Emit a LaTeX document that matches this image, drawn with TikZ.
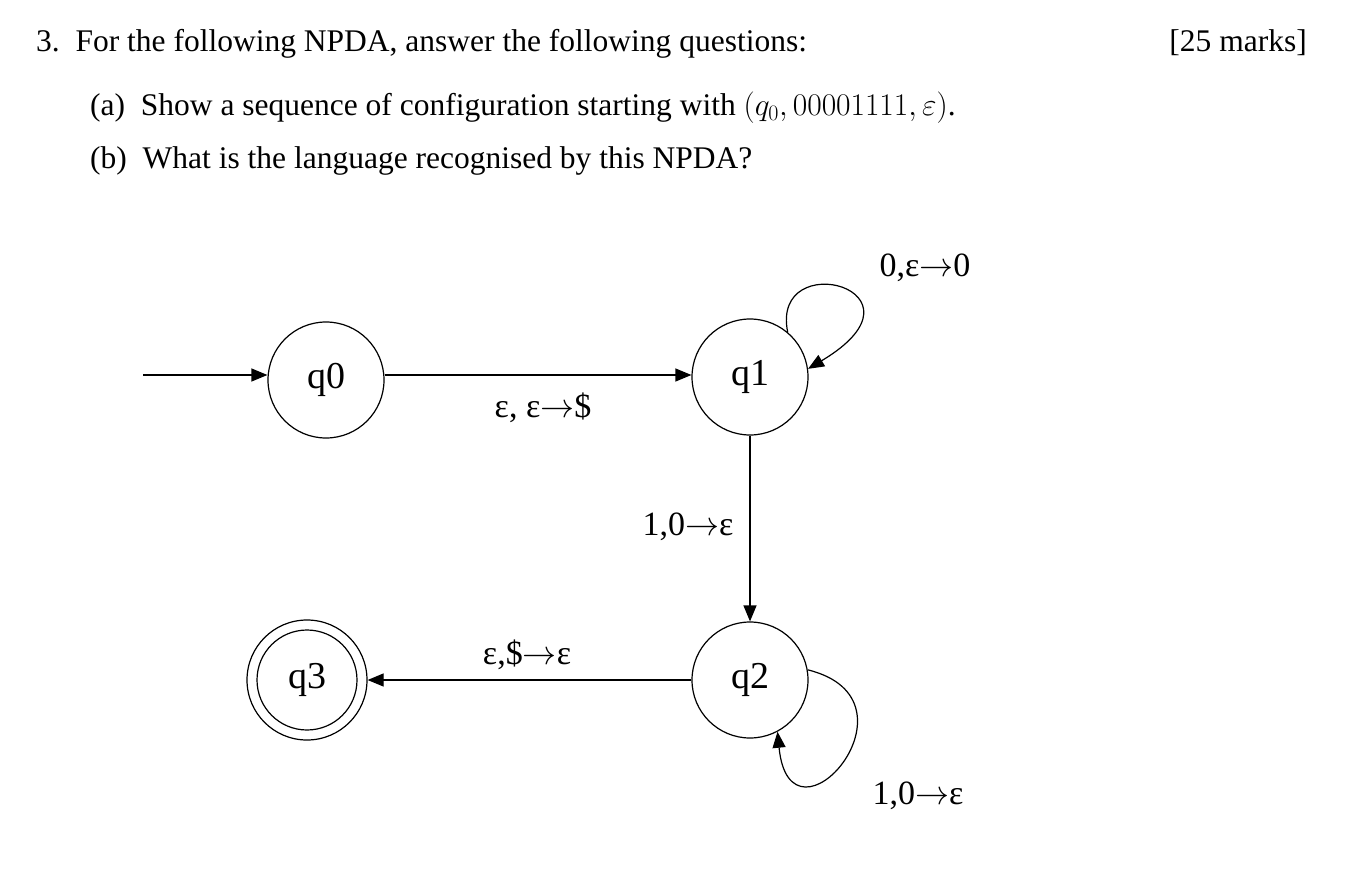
\documentclass[tikz,border=0pt]{standalone}
\usepackage{fix-cm}
\usepackage{fontspec}
\setmainfont{Liberation Serif}
\usetikzlibrary{arrows.meta}
\begin{document}
\begin{tikzpicture}[x=1pt,y=-1pt,
  st/.style={circle,draw,line width=1.2pt,minimum size=116pt,inner sep=0pt,font=\fontsize{38}{44}\selectfont},
  lab/.style={font=\fontsize{34}{40}\selectfont,inner sep=1pt},
  hd/.style={font=\fontsize{31.5}{36}\selectfont,anchor=base west,inner sep=0pt},
  edge/.style={line width=1.2pt,-{Triangle[length=16pt,width=13pt]}}]
\useasboundingbox (0,0) rectangle (1362,872);
\node[hd] (n3) at (36,52) {3.\ \ For the following NPDA, answer the following questions:};
\node[hd,anchor=base east] (mk) at (1307,52) {[25 marks]};
\node[hd] (qa) at (90,116) {(a)\ \ Show a sequence of configuration starting with $(q_0, 00001111, \varepsilon)$.};
\node[hd] (qb) at (90,168) {(b)\ \ What is the language recognised by this NPDA?};
\node[st] (q0) at (326,380) {q0};
\node[st] (q1) at (750,377) {q1};
\node[st] (q2) at (750,680) {q2};
\node[st,minimum size=120pt] (q3) at (307,680) {};
\node[st,minimum size=100pt] (q3i) at (307,680) {q3};
\coordinate (s) at (143,375);
\draw[edge] (s) -- (s -| q0.west);
\draw[edge] (q0.east |- 0,375) -- (q1.west |- 0,375);
\draw[edge] (q1) -- (q2);
\draw[edge] (q2.west) -- (q3.east);
\draw[edge] (q1.50) .. controls (770,245) and (940,290) .. (q1.8);
\draw[edge] (q2.10) .. controls (930,700) and (790,860) .. (q2.-62);
\node[lab] (l1) at (543,408) {ε, ε$\to$\$};
\node[lab,fill=white] (l2) at (688,527) {1,0$\to$ε};
\node[lab] (l3) at (527,655) {ε,\$$\to$ε};
\node[lab] (l4) at (925,268) {0,ε$\to$0};
\node[lab] (l5) at (918,796) {1,0$\to$ε};
\end{tikzpicture}
\end{document}
